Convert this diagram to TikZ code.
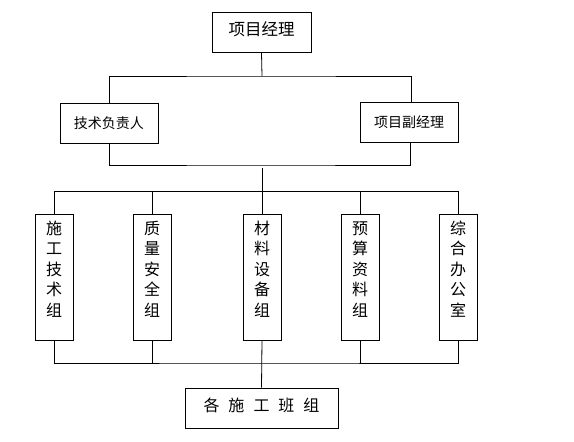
\documentclass[tikz,border=0pt]{standalone}
\usepackage{fontspec}
\newfontfamily\cjk{Noto Sans CJK SC}
\usetikzlibrary{positioning}
\usetikzlibrary{calc}

\newcommand{\vtext}[1]{\raisebox{6pt}[\height][\depth]{\begin{tabular}{@{}c@{}}#1\end{tabular}}}

\begin{document}
\begin{tikzpicture}[
    x=1pt,y=-1pt,
    line width=0.8pt,
    wbox/.style={draw,rectangle,inner sep=0pt,font=\cjk\fontsize{15}{15}\selectfont},
    gbox/.style={draw,rectangle,inner sep=0pt,minimum width=38pt,minimum height=126pt,
                 align=center,font=\cjk\fontsize{16}{20.5}\selectfont},
]

\useasboundingbox (0,0) rectangle (574,442);

% =====================================================
% Top level
% =====================================================

\node[wbox,minimum width=99pt,minimum height=40pt,font=\cjk\fontsize{16.5}{16}\selectfont]
    (pm) at (261.5,32) {\raisebox{3pt}[\height][\depth]{项目经理}};

\node[wbox,minimum width=98pt,minimum height=40pt,font=\cjk\fontsize{14}{14}\selectfont]
    (tech) at (109,123) {技术负责人};
\node[wbox,minimum width=98pt,minimum height=40pt,font=\cjk\fontsize{14}{14}\selectfont]
    (dpm) at (409,122) {项目副经理};

\coordinate (bus1) at (262,76);
\coordinate (bus2) at (262,165);

\draw (pm.south) -- (bus1);
\draw (tech.north) |- (bus1) -| ([xshift=2pt]dpm.north);
\draw (tech.south) |- (bus2) -| ([xshift=1pt]dpm.south);

% =====================================================
% Groups
% =====================================================

\node[gbox] (g1) at (54,277)  {\vtext{施\\工\\技\\术\\组}};
\node[gbox] (g2) at (152,277) {\vtext{质\\量\\安\\全\\组}};
\node[gbox] (g3) at (262,277) {\vtext{材\\料\\设\\备\\组}};
\node[gbox] (g4) at (360,277) {\vtext{预\\算\\资\\料\\组}};
\node[gbox] (g5) at (458,277) {\vtext{综\\合\\办\\公\\室}};

\coordinate (top3) at (262,168);
\coordinate (bus3) at (262,191.5);
\coordinate (bus4) at (262,363);

\draw (top3) -- (g3.north);
\draw (g1.north) |- (bus3) -| (g5.north);
\draw (g2.north) -- (g2.north |- bus3);
\draw (g4.north) -- (g4.north |- bus3);

\draw (g1.south) |- (bus4) -| (g5.south);
\draw (g2.south) -- (g2.south |- bus4);
\draw (g4.south) -- (g4.south |- bus4);

% =====================================================
% Bottom
% =====================================================

\node[wbox,minimum width=153pt,minimum height=40pt,font=\cjk\fontsize{16}{16}\selectfont]
    (team) at (261.5,408)
    {\raisebox{3pt}[\height][\depth]{各\hspace{9pt}施\hspace{9pt}工\hspace{9pt}班\hspace{9pt}组}};

\draw (g3.south) -- (team.north);

\end{tikzpicture}
\end{document}
